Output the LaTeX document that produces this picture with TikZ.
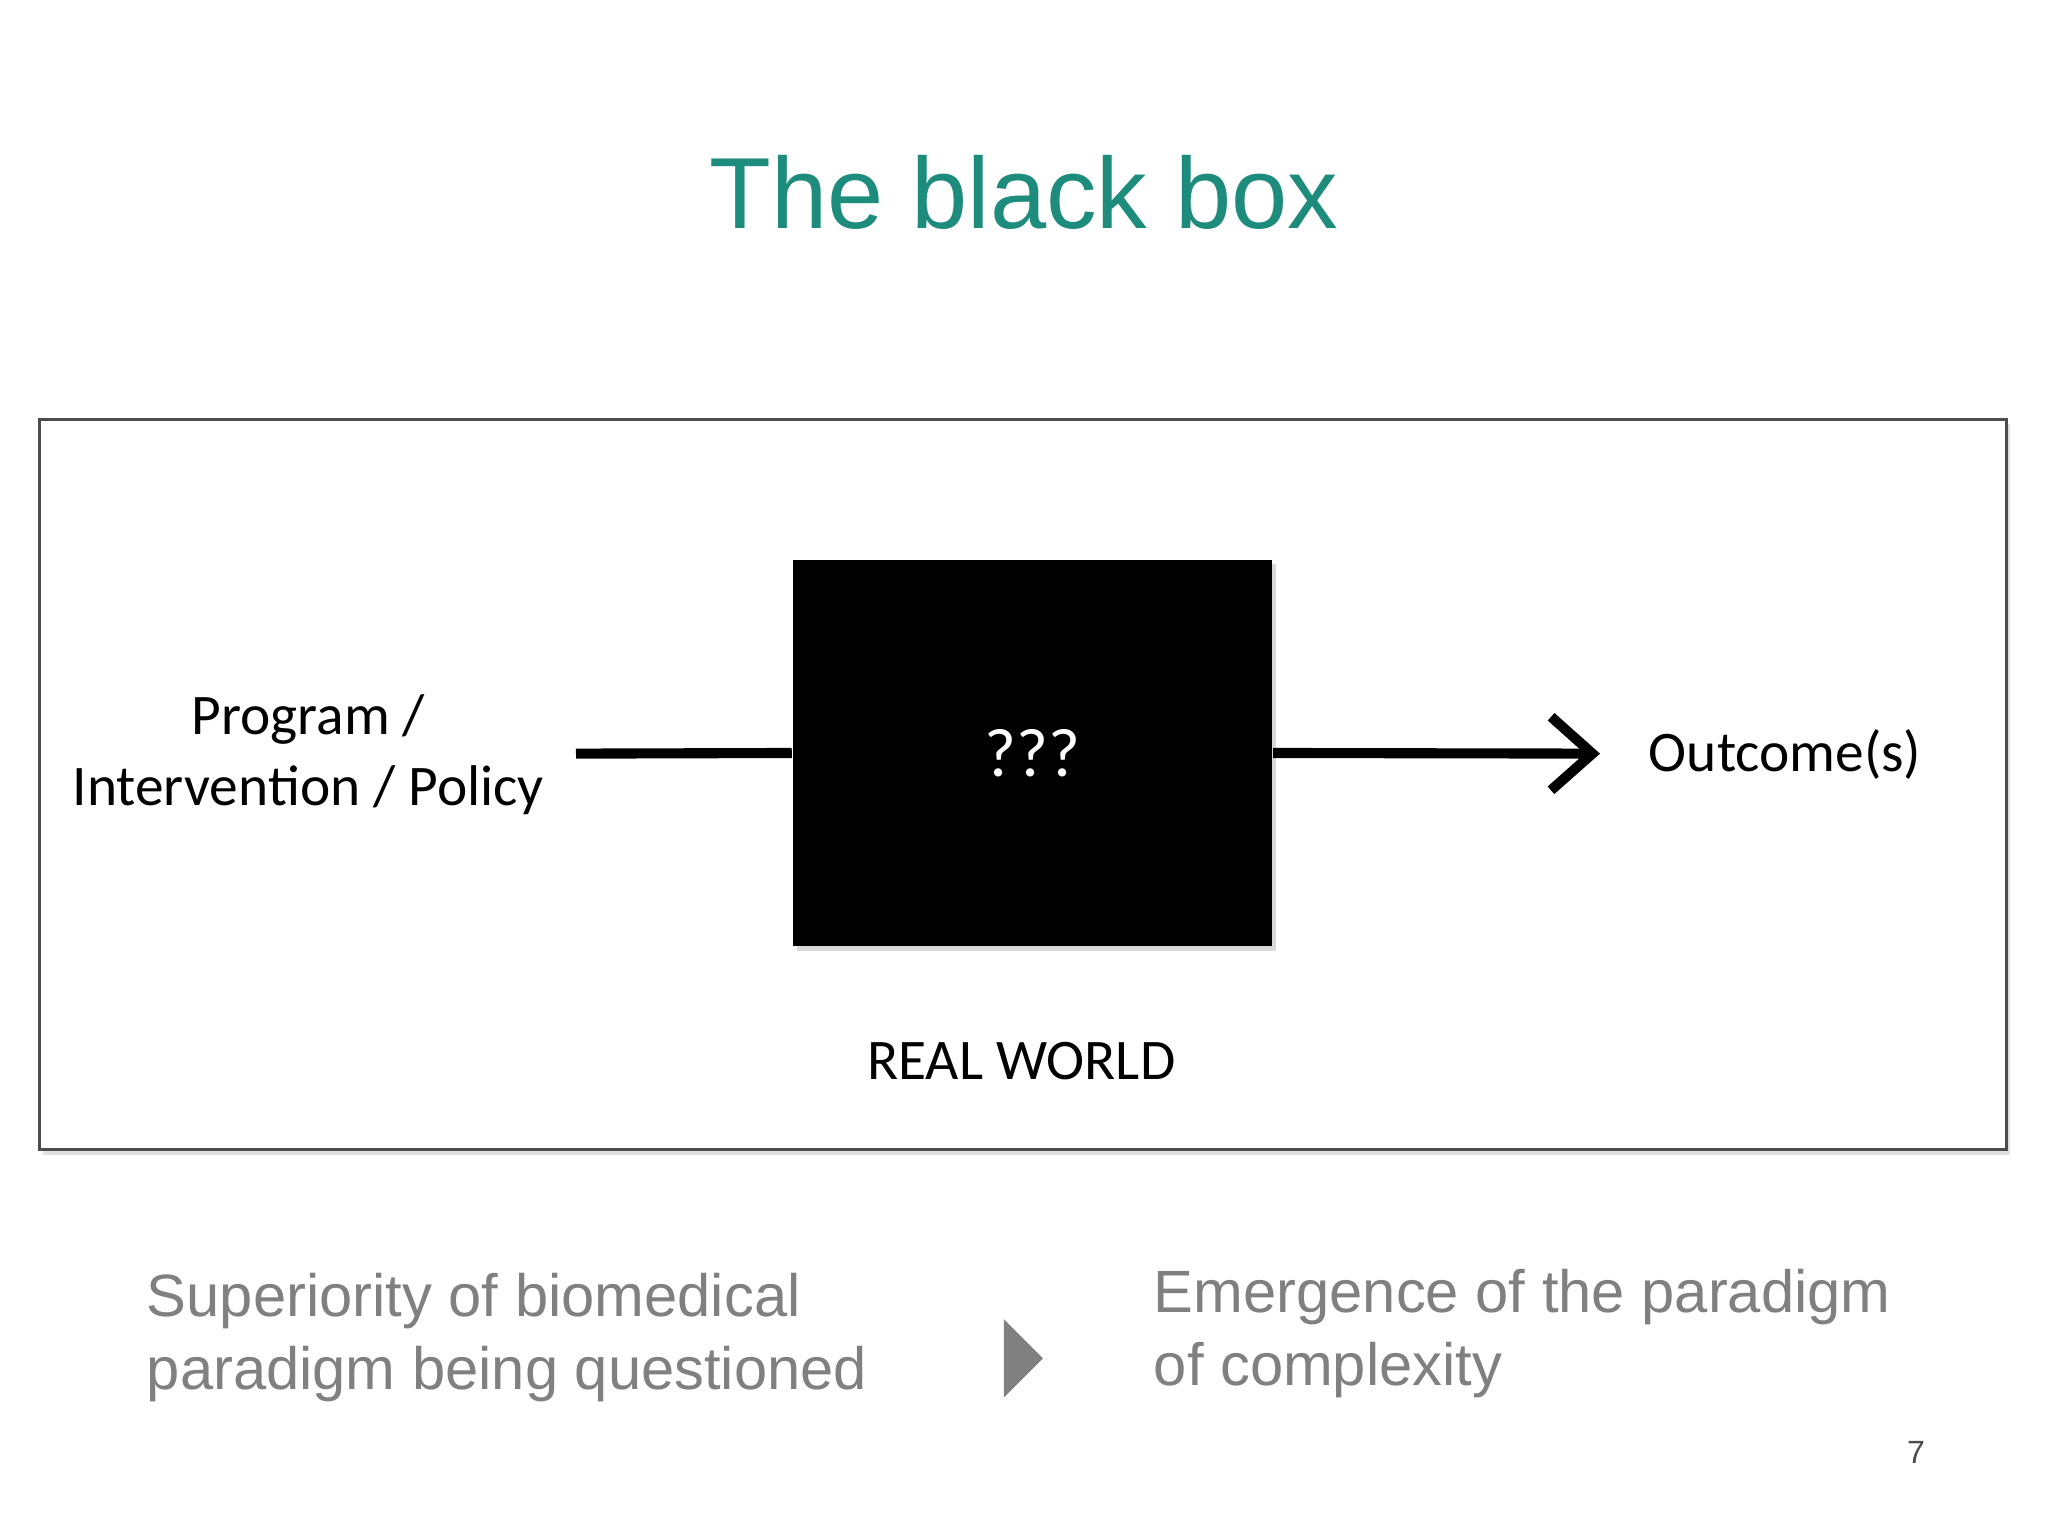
\documentclass[tikz,border=0pt]{standalone}
\usepackage{fontspec}
\setmainfont{Liberation Sans}
\newfontfamily\calibri{Carlito}
\usetikzlibrary{arrows.meta,shapes.geometric}
\definecolor{titleteal}{RGB}{30,140,125}
\definecolor{slidegray}{RGB}{128,128,128}
\tikzset{
  boxtext/.style={font=\calibri\fontsize{12.5}{15.5}\selectfont, align=center},
  graytext/.style={font=\fontsize{13}{16}\selectfont, text=slidegray, align=left, anchor=west},
  flow/.style={line width=2.2pt},
}
\begin{document}
\begin{tikzpicture}[x=0.01cm, y=-0.01cm]
    \useasboundingbox (0,0) rectangle (1568,1176);
    % Title
    \node[font=\fontsize{22}{26}\selectfont, text=titleteal] (title) at (784,147) {The black box};

    % Real world frame with light shadow
    \fill[black!12] (33,325) rectangle (1539,884);
    \draw[fill=white, draw=black!70, line width=0.6pt] (30,321) rectangle (1536,880);
    \fill[black!15] (610,432) rectangle (977,728);
    \node[fill=black, minimum width=3.67cm, minimum height=2.95cm, inner sep=0pt,
          text=white, font=\calibri\fontsize{15}{18}\selectfont] (box) at (790.5,576.5) {???};

    % Inputs and outputs
    \node[boxtext] (prog) at (236,578) {Program /\\Intervention / Policy};
    \node[boxtext, anchor=west] (out) at (1250,578) {Outcome(s)};
    \coordinate (start) at (441,577);
    \coordinate (tip) at (1225,577);
    \draw[flow] (start) -- (box.west);
    \draw[flow, -{Straight Barb[length=9pt, width=16pt, line width=2.2pt]}] (box.east) -- (tip);
    \node[boxtext] (world) at (782,812) {REAL WORLD};

    % Bottom statements
    \node[graytext] (left) at (100,1024) {Superiority of biomedical\\paradigm being questioned};
    \node[fill=slidegray, isosceles triangle, isosceles triangle stretches, inner sep=0pt,
          minimum width=0.6cm, minimum height=0.3cm] (arr) at (781,1040) {};
    \node[graytext] (right) at (871,1021) {Emergence of the paradigm\\of complexity};
    \node[font=\fontsize{7}{8}\selectfont, text=black!70] (page) at (1467,1112) {7};
\end{tikzpicture}
\end{document}
